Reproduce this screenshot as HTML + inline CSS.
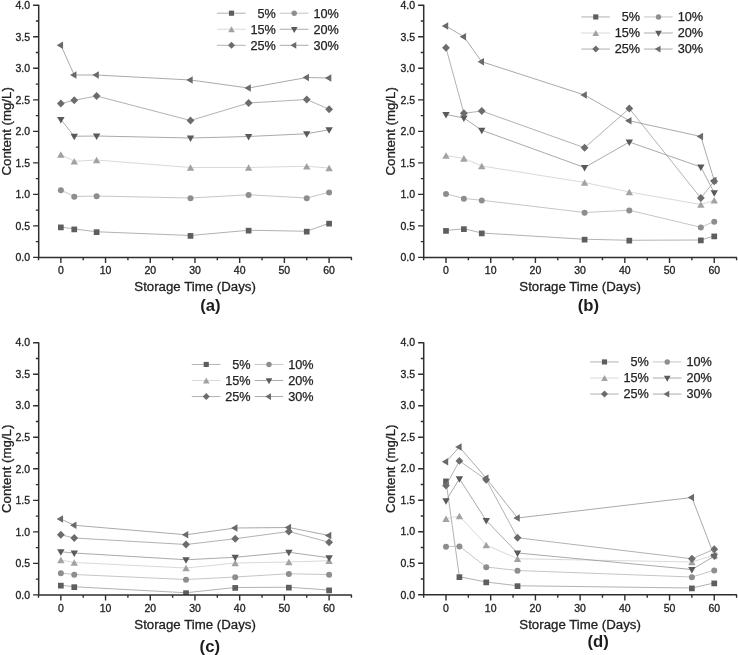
<!DOCTYPE html>
<html lang="en">
<head>
<meta charset="utf-8">
<title>Content vs Storage Time</title>
<style>
html,body{margin:0;padding:0;background:#fff;}
body{width:738px;height:655px;overflow:hidden;}
svg{display:block;filter:blur(0.3px);font-family:"Liberation Sans",Arial,Helvetica,sans-serif;}
.tk{font-size:10.5px;fill:#222;stroke:#222;stroke-width:0.3px;}
.ti{font-size:13.25px;fill:#222;stroke:#222;stroke-width:0.3px;}
.lg{font-size:12.7px;fill:#222;stroke:#222;stroke-width:0.25px;}
.lb{font-size:16.7px;font-weight:bold;fill:#1c1c1c;}
</style>
</head>
<body>
<svg width="738" height="655" viewBox="0 0 738 655">
<rect width="738" height="655" fill="#fff"/>
<g id="chart-a">
<clipPath id="clip-a"><rect x="38.70" y="-14.70" width="315.10" height="272.10"/></clipPath>
<g clip-path="url(#clip-a)">
<polyline points="60.85,227.00 74.26,229.00 96.62,231.75 190.50,235.50 248.62,230.25 306.74,231.25 329.10,223.25" fill="none" stroke="#989898" stroke-width="0.75"/>
<rect x="58.00" y="224.55" width="5.70" height="5.70" fill="#5e5e5e"/>
<rect x="71.41" y="226.55" width="5.70" height="5.70" fill="#5e5e5e"/>
<rect x="93.77" y="229.30" width="5.70" height="5.70" fill="#5e5e5e"/>
<rect x="187.65" y="233.05" width="5.70" height="5.70" fill="#5e5e5e"/>
<rect x="245.77" y="227.80" width="5.70" height="5.70" fill="#5e5e5e"/>
<rect x="303.89" y="228.80" width="5.70" height="5.70" fill="#5e5e5e"/>
<rect x="326.25" y="220.80" width="5.70" height="5.70" fill="#5e5e5e"/>
<polyline points="60.85,190.00 74.26,196.50 96.62,196.00 190.50,198.00 248.62,194.75 306.74,198.00 329.10,192.25" fill="none" stroke="#b2b2b2" stroke-width="0.75"/>
<circle cx="60.85" cy="190.25" r="3.00" fill="#8e8e8e"/>
<circle cx="74.26" cy="196.75" r="3.00" fill="#8e8e8e"/>
<circle cx="96.62" cy="196.25" r="3.00" fill="#8e8e8e"/>
<circle cx="190.50" cy="198.25" r="3.00" fill="#8e8e8e"/>
<circle cx="248.62" cy="195.00" r="3.00" fill="#8e8e8e"/>
<circle cx="306.74" cy="198.25" r="3.00" fill="#8e8e8e"/>
<circle cx="329.10" cy="192.50" r="3.00" fill="#8e8e8e"/>
<polyline points="60.85,154.50 74.26,161.25 96.62,160.00 190.50,167.50 248.62,167.50 306.74,166.25 329.10,168.00" fill="none" stroke="#cccccc" stroke-width="0.75"/>
<polygon points="57.15,157.80 64.55,157.80 60.85,151.20" fill="#a2a2a2"/>
<polygon points="70.56,164.55 77.96,164.55 74.26,157.95" fill="#a2a2a2"/>
<polygon points="92.92,163.30 100.32,163.30 96.62,156.70" fill="#a2a2a2"/>
<polygon points="186.80,170.80 194.20,170.80 190.50,164.20" fill="#a2a2a2"/>
<polygon points="244.92,170.80 252.32,170.80 248.62,164.20" fill="#a2a2a2"/>
<polygon points="303.04,169.55 310.44,169.55 306.74,162.95" fill="#a2a2a2"/>
<polygon points="325.40,171.30 332.80,171.30 329.10,164.70" fill="#a2a2a2"/>
<polyline points="60.85,119.50 74.26,136.25 96.62,136.00 190.50,138.00 248.62,136.50 306.74,133.75 329.10,129.75" fill="none" stroke="#8e8e8e" stroke-width="0.75"/>
<polygon points="57.15,116.90 64.55,116.90 60.85,123.50" fill="#5a5a5a"/>
<polygon points="70.56,133.65 77.96,133.65 74.26,140.25" fill="#5a5a5a"/>
<polygon points="92.92,133.40 100.32,133.40 96.62,140.00" fill="#5a5a5a"/>
<polygon points="186.80,135.40 194.20,135.40 190.50,142.00" fill="#5a5a5a"/>
<polygon points="244.92,133.90 252.32,133.90 248.62,140.50" fill="#5a5a5a"/>
<polygon points="303.04,131.15 310.44,131.15 306.74,137.75" fill="#5a5a5a"/>
<polygon points="325.40,127.15 332.80,127.15 329.10,133.75" fill="#5a5a5a"/>
<polyline points="60.85,103.50 74.26,100.25 96.62,96.00 190.50,120.50 248.62,103.00 306.74,99.50 329.10,109.25" fill="none" stroke="#989898" stroke-width="0.75"/>
<polygon points="56.95,103.50 60.85,99.60 64.75,103.50 60.85,107.40" fill="#6c6c6c"/>
<polygon points="70.36,100.25 74.26,96.35 78.16,100.25 74.26,104.15" fill="#6c6c6c"/>
<polygon points="92.72,96.00 96.62,92.10 100.52,96.00 96.62,99.90" fill="#6c6c6c"/>
<polygon points="186.60,120.50 190.50,116.60 194.40,120.50 190.50,124.40" fill="#6c6c6c"/>
<polygon points="244.72,103.00 248.62,99.10 252.52,103.00 248.62,106.90" fill="#6c6c6c"/>
<polygon points="302.84,99.50 306.74,95.60 310.64,99.50 306.74,103.40" fill="#6c6c6c"/>
<polygon points="325.20,109.25 329.10,105.35 333.00,109.25 329.10,113.15" fill="#6c6c6c"/>
<polyline points="60.85,45.25 74.26,75.00 96.62,75.00 190.50,80.00 248.62,88.00 306.74,77.50 329.10,78.00" fill="none" stroke="#8e8e8e" stroke-width="0.75"/>
<polygon points="63.05,41.55 63.05,48.95 56.65,45.25" fill="#6a6a6a"/>
<polygon points="76.46,71.30 76.46,78.70 70.06,75.00" fill="#6a6a6a"/>
<polygon points="98.82,71.30 98.82,78.70 92.42,75.00" fill="#6a6a6a"/>
<polygon points="192.70,76.30 192.70,83.70 186.30,80.00" fill="#6a6a6a"/>
<polygon points="250.82,84.30 250.82,91.70 244.42,88.00" fill="#6a6a6a"/>
<polygon points="308.94,73.80 308.94,81.20 302.54,77.50" fill="#6a6a6a"/>
<polygon points="331.30,74.30 331.30,81.70 324.90,78.00" fill="#6a6a6a"/>
</g>
<path d="M38.70,4.70V257.40H351.80" fill="none" stroke="#2e2e2e" stroke-width="1.5" stroke-linejoin="miter"/>
<path d="M38.70,257.40h-5.6M38.70,241.64h-2.9M38.70,225.89h-5.6M38.70,210.13h-2.9M38.70,194.38h-5.6M38.70,178.62h-2.9M38.70,162.86h-5.6M38.70,147.11h-2.9M38.70,131.35h-5.6M38.70,115.59h-2.9M38.70,99.84h-5.6M38.70,84.08h-2.9M38.70,68.32h-5.6M38.70,52.57h-2.9M38.70,36.81h-5.6M38.70,21.06h-2.9M38.70,5.30h-5.6M38.50,257.40v2.9M60.85,257.40v5.6M83.20,257.40v2.9M105.56,257.40v5.6M127.91,257.40v2.9M150.27,257.40v5.6M172.62,257.40v2.9M194.97,257.40v5.6M217.33,257.40v2.9M239.68,257.40v5.6M262.04,257.40v2.9M284.39,257.40v5.6M306.74,257.40v2.9M329.10,257.40v5.6M351.45,257.40v2.9" fill="none" stroke="#2e2e2e" stroke-width="1.4"/>
<text class="tk" x="30.10" y="261.10" text-anchor="end">0.0</text>
<text class="tk" x="30.10" y="229.59" text-anchor="end">0.5</text>
<text class="tk" x="30.10" y="198.07" text-anchor="end">1.0</text>
<text class="tk" x="30.10" y="166.56" text-anchor="end">1.5</text>
<text class="tk" x="30.10" y="135.05" text-anchor="end">2.0</text>
<text class="tk" x="30.10" y="103.54" text-anchor="end">2.5</text>
<text class="tk" x="30.10" y="72.02" text-anchor="end">3.0</text>
<text class="tk" x="30.10" y="40.51" text-anchor="end">3.5</text>
<text class="tk" x="30.10" y="9.00" text-anchor="end">4.0</text>
<text class="tk" x="60.85" y="274.00" text-anchor="middle">0</text>
<text class="tk" x="105.56" y="274.00" text-anchor="middle">10</text>
<text class="tk" x="150.27" y="274.00" text-anchor="middle">20</text>
<text class="tk" x="194.97" y="274.00" text-anchor="middle">30</text>
<text class="tk" x="239.68" y="274.00" text-anchor="middle">40</text>
<text class="tk" x="284.39" y="274.00" text-anchor="middle">50</text>
<text class="tk" x="329.10" y="274.00" text-anchor="middle">60</text>
<text class="ti" x="195.05" y="290.60" text-anchor="middle">Storage Time (Days)</text>
<text class="ti" transform="translate(10.70,131.35) rotate(-90)" text-anchor="middle">Content (mg/L)</text>
<text class="lb" x="210.40" y="310.60" text-anchor="middle">(a)</text>
<line x1="217.00" y1="13.20" x2="245.75" y2="13.20" stroke="#989898" stroke-width="0.75"/>
<rect x="228.94" y="10.63" width="5.13" height="5.13" fill="#5e5e5e"/>
<text class="lg" x="275.80" y="17.60" text-anchor="end">5%</text>
<line x1="279.75" y1="13.20" x2="308.50" y2="13.20" stroke="#b2b2b2" stroke-width="0.75"/>
<circle cx="294.25" cy="13.20" r="2.70" fill="#8e8e8e"/>
<text class="lg" x="338.80" y="17.60" text-anchor="end">10%</text>
<line x1="217.00" y1="29.25" x2="245.75" y2="29.25" stroke="#cccccc" stroke-width="0.75"/>
<polygon points="228.17,32.22 234.83,32.22 231.50,26.28" fill="#a2a2a2"/>
<text class="lg" x="275.80" y="33.65" text-anchor="end">15%</text>
<line x1="279.75" y1="29.25" x2="308.50" y2="29.25" stroke="#8e8e8e" stroke-width="0.75"/>
<polygon points="290.92,26.98 297.58,26.98 294.25,32.92" fill="#5a5a5a"/>
<text class="lg" x="338.80" y="33.65" text-anchor="end">20%</text>
<line x1="217.00" y1="45.30" x2="245.75" y2="45.30" stroke="#989898" stroke-width="0.75"/>
<polygon points="227.99,45.30 231.50,41.79 235.01,45.30 231.50,48.81" fill="#6c6c6c"/>
<text class="lg" x="275.80" y="49.70" text-anchor="end">25%</text>
<line x1="279.75" y1="45.30" x2="308.50" y2="45.30" stroke="#8e8e8e" stroke-width="0.75"/>
<polygon points="296.23,41.97 296.23,48.63 290.47,45.30" fill="#6a6a6a"/>
<text class="lg" x="338.80" y="49.70" text-anchor="end">30%</text>
</g>
<g id="chart-b">
<clipPath id="clip-b"><rect x="423.70" y="-14.70" width="315.20" height="272.10"/></clipPath>
<g clip-path="url(#clip-b)">
<polyline points="446.00,230.50 463.88,228.75 481.77,233.00 584.59,239.25 629.30,240.25 700.84,240.00 714.25,236.00" fill="none" stroke="#989898" stroke-width="0.75"/>
<rect x="443.15" y="228.05" width="5.70" height="5.70" fill="#5e5e5e"/>
<rect x="461.03" y="226.30" width="5.70" height="5.70" fill="#5e5e5e"/>
<rect x="478.92" y="230.55" width="5.70" height="5.70" fill="#5e5e5e"/>
<rect x="581.74" y="236.80" width="5.70" height="5.70" fill="#5e5e5e"/>
<rect x="626.45" y="237.80" width="5.70" height="5.70" fill="#5e5e5e"/>
<rect x="697.99" y="237.55" width="5.70" height="5.70" fill="#5e5e5e"/>
<rect x="711.40" y="233.55" width="5.70" height="5.70" fill="#5e5e5e"/>
<polyline points="446.00,193.75 463.88,198.50 481.77,200.25 584.59,212.50 629.30,210.25 700.84,227.25 714.25,221.50" fill="none" stroke="#b2b2b2" stroke-width="0.75"/>
<circle cx="446.00" cy="194.00" r="3.00" fill="#8e8e8e"/>
<circle cx="463.88" cy="198.75" r="3.00" fill="#8e8e8e"/>
<circle cx="481.77" cy="200.50" r="3.00" fill="#8e8e8e"/>
<circle cx="584.59" cy="212.75" r="3.00" fill="#8e8e8e"/>
<circle cx="629.30" cy="210.50" r="3.00" fill="#8e8e8e"/>
<circle cx="700.84" cy="227.50" r="3.00" fill="#8e8e8e"/>
<circle cx="714.25" cy="221.75" r="3.00" fill="#8e8e8e"/>
<polyline points="446.00,155.50 463.88,158.40 481.77,166.00 584.59,182.50 629.30,192.00 700.84,204.50 714.25,200.25" fill="none" stroke="#cccccc" stroke-width="0.75"/>
<polygon points="442.30,158.80 449.70,158.80 446.00,152.20" fill="#a2a2a2"/>
<polygon points="460.18,161.70 467.58,161.70 463.88,155.10" fill="#a2a2a2"/>
<polygon points="478.07,169.30 485.47,169.30 481.77,162.70" fill="#a2a2a2"/>
<polygon points="580.89,185.80 588.29,185.80 584.59,179.20" fill="#a2a2a2"/>
<polygon points="625.60,195.30 633.00,195.30 629.30,188.70" fill="#a2a2a2"/>
<polygon points="697.14,207.80 704.54,207.80 700.84,201.20" fill="#a2a2a2"/>
<polygon points="710.55,203.55 717.95,203.55 714.25,196.95" fill="#a2a2a2"/>
<polyline points="446.00,114.50 463.88,118.00 481.77,130.25 584.59,167.50 629.30,142.00 700.84,167.00 714.25,192.75" fill="none" stroke="#8e8e8e" stroke-width="0.75"/>
<polygon points="442.30,111.90 449.70,111.90 446.00,118.50" fill="#5a5a5a"/>
<polygon points="460.18,115.40 467.58,115.40 463.88,122.00" fill="#5a5a5a"/>
<polygon points="478.07,127.65 485.47,127.65 481.77,134.25" fill="#5a5a5a"/>
<polygon points="580.89,164.90 588.29,164.90 584.59,171.50" fill="#5a5a5a"/>
<polygon points="625.60,139.40 633.00,139.40 629.30,146.00" fill="#5a5a5a"/>
<polygon points="697.14,164.40 704.54,164.40 700.84,171.00" fill="#5a5a5a"/>
<polygon points="710.55,190.15 717.95,190.15 714.25,196.75" fill="#5a5a5a"/>
<polyline points="446.00,47.75 463.88,113.25 481.77,111.00 584.59,147.75 629.30,108.50 700.84,198.00 714.25,181.25" fill="none" stroke="#989898" stroke-width="0.75"/>
<polygon points="442.10,47.75 446.00,43.85 449.90,47.75 446.00,51.65" fill="#6c6c6c"/>
<polygon points="459.98,113.25 463.88,109.35 467.78,113.25 463.88,117.15" fill="#6c6c6c"/>
<polygon points="477.87,111.00 481.77,107.10 485.67,111.00 481.77,114.90" fill="#6c6c6c"/>
<polygon points="580.69,147.75 584.59,143.85 588.49,147.75 584.59,151.65" fill="#6c6c6c"/>
<polygon points="625.40,108.50 629.30,104.60 633.20,108.50 629.30,112.40" fill="#6c6c6c"/>
<polygon points="696.94,198.00 700.84,194.10 704.74,198.00 700.84,201.90" fill="#6c6c6c"/>
<polygon points="710.35,181.25 714.25,177.35 718.15,181.25 714.25,185.15" fill="#6c6c6c"/>
<polyline points="446.00,26.00 463.88,36.75 481.77,61.75 584.59,95.00 629.30,120.75 700.84,136.50 714.25,180.50" fill="none" stroke="#8e8e8e" stroke-width="0.75"/>
<polygon points="448.20,22.30 448.20,29.70 441.80,26.00" fill="#6a6a6a"/>
<polygon points="466.08,33.05 466.08,40.45 459.68,36.75" fill="#6a6a6a"/>
<polygon points="483.97,58.05 483.97,65.45 477.57,61.75" fill="#6a6a6a"/>
<polygon points="586.79,91.30 586.79,98.70 580.39,95.00" fill="#6a6a6a"/>
<polygon points="631.50,117.05 631.50,124.45 625.10,120.75" fill="#6a6a6a"/>
<polygon points="703.04,132.80 703.04,140.20 696.64,136.50" fill="#6a6a6a"/>
<polygon points="716.45,176.80 716.45,184.20 710.05,180.50" fill="#6a6a6a"/>
</g>
<path d="M423.70,4.70V257.40H736.90" fill="none" stroke="#2e2e2e" stroke-width="1.5" stroke-linejoin="miter"/>
<path d="M423.70,257.40h-5.6M423.70,241.64h-2.9M423.70,225.89h-5.6M423.70,210.13h-2.9M423.70,194.38h-5.6M423.70,178.62h-2.9M423.70,162.86h-5.6M423.70,147.11h-2.9M423.70,131.35h-5.6M423.70,115.59h-2.9M423.70,99.84h-5.6M423.70,84.08h-2.9M423.70,68.32h-5.6M423.70,52.57h-2.9M423.70,36.81h-5.6M423.70,21.06h-2.9M423.70,5.30h-5.6M423.65,257.40v2.9M446.00,257.40v5.6M468.35,257.40v2.9M490.71,257.40v5.6M513.06,257.40v2.9M535.42,257.40v5.6M557.77,257.40v2.9M580.12,257.40v5.6M602.48,257.40v2.9M624.83,257.40v5.6M647.19,257.40v2.9M669.54,257.40v5.6M691.89,257.40v2.9M714.25,257.40v5.6M736.60,257.40v2.9" fill="none" stroke="#2e2e2e" stroke-width="1.4"/>
<text class="tk" x="415.10" y="261.10" text-anchor="end">0.0</text>
<text class="tk" x="415.10" y="229.59" text-anchor="end">0.5</text>
<text class="tk" x="415.10" y="198.07" text-anchor="end">1.0</text>
<text class="tk" x="415.10" y="166.56" text-anchor="end">1.5</text>
<text class="tk" x="415.10" y="135.05" text-anchor="end">2.0</text>
<text class="tk" x="415.10" y="103.54" text-anchor="end">2.5</text>
<text class="tk" x="415.10" y="72.02" text-anchor="end">3.0</text>
<text class="tk" x="415.10" y="40.51" text-anchor="end">3.5</text>
<text class="tk" x="415.10" y="9.00" text-anchor="end">4.0</text>
<text class="tk" x="446.00" y="274.00" text-anchor="middle">0</text>
<text class="tk" x="490.71" y="274.00" text-anchor="middle">10</text>
<text class="tk" x="535.42" y="274.00" text-anchor="middle">20</text>
<text class="tk" x="580.12" y="274.00" text-anchor="middle">30</text>
<text class="tk" x="624.83" y="274.00" text-anchor="middle">40</text>
<text class="tk" x="669.54" y="274.00" text-anchor="middle">50</text>
<text class="tk" x="714.25" y="274.00" text-anchor="middle">60</text>
<text class="ti" x="580.10" y="290.60" text-anchor="middle">Storage Time (Days)</text>
<text class="ti" transform="translate(395.10,131.35) rotate(-90)" text-anchor="middle">Content (mg/L)</text>
<text class="lb" x="588.40" y="310.60" text-anchor="middle">(b)</text>
<line x1="581.25" y1="16.95" x2="610.00" y2="16.95" stroke="#989898" stroke-width="0.75"/>
<rect x="593.18" y="14.38" width="5.13" height="5.13" fill="#5e5e5e"/>
<text class="lg" x="640.05" y="21.35" text-anchor="end">5%</text>
<line x1="644.00" y1="16.95" x2="672.75" y2="16.95" stroke="#b2b2b2" stroke-width="0.75"/>
<circle cx="658.50" cy="16.95" r="2.70" fill="#8e8e8e"/>
<text class="lg" x="703.05" y="21.35" text-anchor="end">10%</text>
<line x1="581.25" y1="33.00" x2="610.00" y2="33.00" stroke="#cccccc" stroke-width="0.75"/>
<polygon points="592.42,35.97 599.08,35.97 595.75,30.03" fill="#a2a2a2"/>
<text class="lg" x="640.05" y="37.40" text-anchor="end">15%</text>
<line x1="644.00" y1="33.00" x2="672.75" y2="33.00" stroke="#8e8e8e" stroke-width="0.75"/>
<polygon points="655.17,30.73 661.83,30.73 658.50,36.67" fill="#5a5a5a"/>
<text class="lg" x="703.05" y="37.40" text-anchor="end">20%</text>
<line x1="581.25" y1="49.05" x2="610.00" y2="49.05" stroke="#989898" stroke-width="0.75"/>
<polygon points="592.24,49.05 595.75,45.54 599.26,49.05 595.75,52.56" fill="#6c6c6c"/>
<text class="lg" x="640.05" y="53.45" text-anchor="end">25%</text>
<line x1="644.00" y1="49.05" x2="672.75" y2="49.05" stroke="#8e8e8e" stroke-width="0.75"/>
<polygon points="660.48,45.72 660.48,52.38 654.72,49.05" fill="#6a6a6a"/>
<text class="lg" x="703.05" y="53.45" text-anchor="end">30%</text>
</g>
<g id="chart-c">
<clipPath id="clip-c"><rect x="38.70" y="322.75" width="315.10" height="272.15"/></clipPath>
<g clip-path="url(#clip-c)">
<polyline points="60.85,585.25 74.26,586.75 186.03,592.75 235.21,587.50 288.86,587.25 329.10,590.00" fill="none" stroke="#989898" stroke-width="0.75"/>
<rect x="58.00" y="582.80" width="5.70" height="5.70" fill="#5e5e5e"/>
<rect x="71.41" y="584.30" width="5.70" height="5.70" fill="#5e5e5e"/>
<rect x="183.18" y="590.30" width="5.70" height="5.70" fill="#5e5e5e"/>
<rect x="232.36" y="585.05" width="5.70" height="5.70" fill="#5e5e5e"/>
<rect x="286.01" y="584.80" width="5.70" height="5.70" fill="#5e5e5e"/>
<rect x="326.25" y="587.55" width="5.70" height="5.70" fill="#5e5e5e"/>
<polyline points="60.85,573.00 74.26,574.50 186.03,579.50 235.21,577.00 288.86,573.75 329.10,574.50" fill="none" stroke="#b2b2b2" stroke-width="0.75"/>
<circle cx="60.85" cy="573.25" r="3.00" fill="#8e8e8e"/>
<circle cx="74.26" cy="574.75" r="3.00" fill="#8e8e8e"/>
<circle cx="186.03" cy="579.75" r="3.00" fill="#8e8e8e"/>
<circle cx="235.21" cy="577.25" r="3.00" fill="#8e8e8e"/>
<circle cx="288.86" cy="574.00" r="3.00" fill="#8e8e8e"/>
<circle cx="329.10" cy="574.75" r="3.00" fill="#8e8e8e"/>
<polyline points="60.85,560.00 74.26,562.50 186.03,568.00 235.21,563.00 288.86,562.00 329.10,560.75" fill="none" stroke="#cccccc" stroke-width="0.75"/>
<polygon points="57.15,563.30 64.55,563.30 60.85,556.70" fill="#a2a2a2"/>
<polygon points="70.56,565.80 77.96,565.80 74.26,559.20" fill="#a2a2a2"/>
<polygon points="182.33,571.30 189.73,571.30 186.03,564.70" fill="#a2a2a2"/>
<polygon points="231.51,566.30 238.91,566.30 235.21,559.70" fill="#a2a2a2"/>
<polygon points="285.16,565.30 292.56,565.30 288.86,558.70" fill="#a2a2a2"/>
<polygon points="325.40,564.05 332.80,564.05 329.10,557.45" fill="#a2a2a2"/>
<polyline points="60.85,551.75 74.26,553.00 186.03,559.75 235.21,557.25 288.86,552.25 329.10,557.75" fill="none" stroke="#8e8e8e" stroke-width="0.75"/>
<polygon points="57.15,549.15 64.55,549.15 60.85,555.75" fill="#5a5a5a"/>
<polygon points="70.56,550.40 77.96,550.40 74.26,557.00" fill="#5a5a5a"/>
<polygon points="182.33,557.15 189.73,557.15 186.03,563.75" fill="#5a5a5a"/>
<polygon points="231.51,554.65 238.91,554.65 235.21,561.25" fill="#5a5a5a"/>
<polygon points="285.16,549.65 292.56,549.65 288.86,556.25" fill="#5a5a5a"/>
<polygon points="325.40,555.15 332.80,555.15 329.10,561.75" fill="#5a5a5a"/>
<polyline points="60.85,534.75 74.26,538.00 186.03,544.50 235.21,538.75 288.86,531.50 329.10,542.25" fill="none" stroke="#989898" stroke-width="0.75"/>
<polygon points="56.95,534.75 60.85,530.85 64.75,534.75 60.85,538.65" fill="#6c6c6c"/>
<polygon points="70.36,538.00 74.26,534.10 78.16,538.00 74.26,541.90" fill="#6c6c6c"/>
<polygon points="182.13,544.50 186.03,540.60 189.93,544.50 186.03,548.40" fill="#6c6c6c"/>
<polygon points="231.31,538.75 235.21,534.85 239.11,538.75 235.21,542.65" fill="#6c6c6c"/>
<polygon points="284.96,531.50 288.86,527.60 292.76,531.50 288.86,535.40" fill="#6c6c6c"/>
<polygon points="325.20,542.25 329.10,538.35 333.00,542.25 329.10,546.15" fill="#6c6c6c"/>
<polyline points="60.85,519.00 74.26,525.25 186.03,534.75 235.21,528.00 288.86,527.50 329.10,535.50" fill="none" stroke="#8e8e8e" stroke-width="0.75"/>
<polygon points="63.05,515.30 63.05,522.70 56.65,519.00" fill="#6a6a6a"/>
<polygon points="76.46,521.55 76.46,528.95 70.06,525.25" fill="#6a6a6a"/>
<polygon points="188.23,531.05 188.23,538.45 181.83,534.75" fill="#6a6a6a"/>
<polygon points="237.41,524.30 237.41,531.70 231.01,528.00" fill="#6a6a6a"/>
<polygon points="291.06,523.80 291.06,531.20 284.66,527.50" fill="#6a6a6a"/>
<polygon points="331.30,531.80 331.30,539.20 324.90,535.50" fill="#6a6a6a"/>
</g>
<path d="M38.70,342.15V594.90H351.80" fill="none" stroke="#2e2e2e" stroke-width="1.5" stroke-linejoin="miter"/>
<path d="M38.70,594.90h-5.6M38.70,579.14h-2.9M38.70,563.38h-5.6M38.70,547.62h-2.9M38.70,531.86h-5.6M38.70,516.10h-2.9M38.70,500.34h-5.6M38.70,484.58h-2.9M38.70,468.82h-5.6M38.70,453.07h-2.9M38.70,437.31h-5.6M38.70,421.55h-2.9M38.70,405.79h-5.6M38.70,390.03h-2.9M38.70,374.27h-5.6M38.70,358.51h-2.9M38.70,342.75h-5.6M38.50,594.90v2.9M60.85,594.90v5.6M83.20,594.90v2.9M105.56,594.90v5.6M127.91,594.90v2.9M150.27,594.90v5.6M172.62,594.90v2.9M194.97,594.90v5.6M217.33,594.90v2.9M239.68,594.90v5.6M262.04,594.90v2.9M284.39,594.90v5.6M306.74,594.90v2.9M329.10,594.90v5.6M351.45,594.90v2.9" fill="none" stroke="#2e2e2e" stroke-width="1.4"/>
<text class="tk" x="30.10" y="598.60" text-anchor="end">0.0</text>
<text class="tk" x="30.10" y="567.08" text-anchor="end">0.5</text>
<text class="tk" x="30.10" y="535.56" text-anchor="end">1.0</text>
<text class="tk" x="30.10" y="504.04" text-anchor="end">1.5</text>
<text class="tk" x="30.10" y="472.52" text-anchor="end">2.0</text>
<text class="tk" x="30.10" y="441.01" text-anchor="end">2.5</text>
<text class="tk" x="30.10" y="409.49" text-anchor="end">3.0</text>
<text class="tk" x="30.10" y="377.97" text-anchor="end">3.5</text>
<text class="tk" x="30.10" y="346.45" text-anchor="end">4.0</text>
<text class="tk" x="60.85" y="612.00" text-anchor="middle">0</text>
<text class="tk" x="105.56" y="612.00" text-anchor="middle">10</text>
<text class="tk" x="150.27" y="612.00" text-anchor="middle">20</text>
<text class="tk" x="194.97" y="612.00" text-anchor="middle">30</text>
<text class="tk" x="239.68" y="612.00" text-anchor="middle">40</text>
<text class="tk" x="284.39" y="612.00" text-anchor="middle">50</text>
<text class="tk" x="329.10" y="612.00" text-anchor="middle">60</text>
<text class="ti" x="195.05" y="628.80" text-anchor="middle">Storage Time (Days)</text>
<text class="ti" transform="translate(10.70,468.82) rotate(-90)" text-anchor="middle">Content (mg/L)</text>
<text class="lb" x="209.80" y="651.50" text-anchor="middle">(c)</text>
<line x1="191.75" y1="364.45" x2="220.50" y2="364.45" stroke="#989898" stroke-width="0.75"/>
<rect x="203.69" y="361.88" width="5.13" height="5.13" fill="#5e5e5e"/>
<text class="lg" x="250.55" y="368.85" text-anchor="end">5%</text>
<line x1="254.50" y1="364.45" x2="283.25" y2="364.45" stroke="#b2b2b2" stroke-width="0.75"/>
<circle cx="269.00" cy="364.45" r="2.70" fill="#8e8e8e"/>
<text class="lg" x="313.55" y="368.85" text-anchor="end">10%</text>
<line x1="191.75" y1="380.50" x2="220.50" y2="380.50" stroke="#cccccc" stroke-width="0.75"/>
<polygon points="202.92,383.47 209.58,383.47 206.25,377.53" fill="#a2a2a2"/>
<text class="lg" x="250.55" y="384.90" text-anchor="end">15%</text>
<line x1="254.50" y1="380.50" x2="283.25" y2="380.50" stroke="#8e8e8e" stroke-width="0.75"/>
<polygon points="265.67,378.23 272.33,378.23 269.00,384.17" fill="#5a5a5a"/>
<text class="lg" x="313.55" y="384.90" text-anchor="end">20%</text>
<line x1="191.75" y1="396.55" x2="220.50" y2="396.55" stroke="#989898" stroke-width="0.75"/>
<polygon points="202.74,396.55 206.25,393.04 209.76,396.55 206.25,400.06" fill="#6c6c6c"/>
<text class="lg" x="250.55" y="400.95" text-anchor="end">25%</text>
<line x1="254.50" y1="396.55" x2="283.25" y2="396.55" stroke="#8e8e8e" stroke-width="0.75"/>
<polygon points="270.98,393.22 270.98,399.88 265.22,396.55" fill="#6a6a6a"/>
<text class="lg" x="313.55" y="400.95" text-anchor="end">30%</text>
</g>
<g id="chart-d">
<clipPath id="clip-d"><rect x="423.70" y="322.75" width="315.20" height="272.05"/></clipPath>
<g clip-path="url(#clip-d)">
<polyline points="446.00,481.00 459.41,576.75 486.24,582.00 517.53,585.75 691.89,588.00 714.25,583.00" fill="none" stroke="#989898" stroke-width="0.75"/>
<rect x="443.15" y="478.55" width="5.70" height="5.70" fill="#5e5e5e"/>
<rect x="456.56" y="574.30" width="5.70" height="5.70" fill="#5e5e5e"/>
<rect x="483.39" y="579.55" width="5.70" height="5.70" fill="#5e5e5e"/>
<rect x="514.68" y="583.30" width="5.70" height="5.70" fill="#5e5e5e"/>
<rect x="689.04" y="585.55" width="5.70" height="5.70" fill="#5e5e5e"/>
<rect x="711.40" y="580.55" width="5.70" height="5.70" fill="#5e5e5e"/>
<polyline points="446.00,546.50 459.41,546.25 486.24,567.00 517.53,570.50 691.89,577.00 714.25,570.25" fill="none" stroke="#b2b2b2" stroke-width="0.75"/>
<circle cx="446.00" cy="546.75" r="3.00" fill="#8e8e8e"/>
<circle cx="459.41" cy="546.50" r="3.00" fill="#8e8e8e"/>
<circle cx="486.24" cy="567.25" r="3.00" fill="#8e8e8e"/>
<circle cx="517.53" cy="570.75" r="3.00" fill="#8e8e8e"/>
<circle cx="691.89" cy="577.25" r="3.00" fill="#8e8e8e"/>
<circle cx="714.25" cy="570.50" r="3.00" fill="#8e8e8e"/>
<polyline points="446.00,518.75 459.41,516.00 486.24,545.00 517.53,558.75 691.89,562.00 714.25,555.00" fill="none" stroke="#cccccc" stroke-width="0.75"/>
<polygon points="442.30,522.05 449.70,522.05 446.00,515.45" fill="#a2a2a2"/>
<polygon points="455.71,519.30 463.11,519.30 459.41,512.70" fill="#a2a2a2"/>
<polygon points="482.54,548.30 489.94,548.30 486.24,541.70" fill="#a2a2a2"/>
<polygon points="513.83,562.05 521.23,562.05 517.53,555.45" fill="#a2a2a2"/>
<polygon points="688.19,565.30 695.59,565.30 691.89,558.70" fill="#a2a2a2"/>
<polygon points="710.55,558.30 717.95,558.30 714.25,551.70" fill="#a2a2a2"/>
<polyline points="446.00,500.75 459.41,478.75 486.24,520.50 517.53,553.00 691.89,569.50 714.25,556.25" fill="none" stroke="#8e8e8e" stroke-width="0.75"/>
<polygon points="442.30,498.15 449.70,498.15 446.00,504.75" fill="#5a5a5a"/>
<polygon points="455.71,476.15 463.11,476.15 459.41,482.75" fill="#5a5a5a"/>
<polygon points="482.54,517.90 489.94,517.90 486.24,524.50" fill="#5a5a5a"/>
<polygon points="513.83,550.40 521.23,550.40 517.53,557.00" fill="#5a5a5a"/>
<polygon points="688.19,566.90 695.59,566.90 691.89,573.50" fill="#5a5a5a"/>
<polygon points="710.55,553.65 717.95,553.65 714.25,560.25" fill="#5a5a5a"/>
<polyline points="446.00,485.60 459.41,460.90 486.24,479.75 517.53,537.75 691.89,558.75 714.25,549.25" fill="none" stroke="#989898" stroke-width="0.75"/>
<polygon points="442.10,485.60 446.00,481.70 449.90,485.60 446.00,489.50" fill="#6c6c6c"/>
<polygon points="455.51,460.90 459.41,457.00 463.31,460.90 459.41,464.80" fill="#6c6c6c"/>
<polygon points="482.34,479.75 486.24,475.85 490.14,479.75 486.24,483.65" fill="#6c6c6c"/>
<polygon points="513.63,537.75 517.53,533.85 521.43,537.75 517.53,541.65" fill="#6c6c6c"/>
<polygon points="687.99,558.75 691.89,554.85 695.79,558.75 691.89,562.65" fill="#6c6c6c"/>
<polygon points="710.35,549.25 714.25,545.35 718.15,549.25 714.25,553.15" fill="#6c6c6c"/>
<polyline points="446.00,461.75 459.41,447.00 486.24,478.25 517.53,518.00 691.89,497.50 714.25,555.75" fill="none" stroke="#8e8e8e" stroke-width="0.75"/>
<polygon points="448.20,458.05 448.20,465.45 441.80,461.75" fill="#6a6a6a"/>
<polygon points="461.61,443.30 461.61,450.70 455.21,447.00" fill="#6a6a6a"/>
<polygon points="488.44,474.55 488.44,481.95 482.04,478.25" fill="#6a6a6a"/>
<polygon points="519.73,514.30 519.73,521.70 513.33,518.00" fill="#6a6a6a"/>
<polygon points="694.09,493.80 694.09,501.20 687.69,497.50" fill="#6a6a6a"/>
<polygon points="716.45,552.05 716.45,559.45 710.05,555.75" fill="#6a6a6a"/>
</g>
<path d="M423.70,342.15V594.80H736.90" fill="none" stroke="#2e2e2e" stroke-width="1.5" stroke-linejoin="miter"/>
<path d="M423.70,594.80h-5.6M423.70,579.05h-2.9M423.70,563.29h-5.6M423.70,547.54h-2.9M423.70,531.79h-5.6M423.70,516.03h-2.9M423.70,500.28h-5.6M423.70,484.53h-2.9M423.70,468.77h-5.6M423.70,453.02h-2.9M423.70,437.27h-5.6M423.70,421.52h-2.9M423.70,405.76h-5.6M423.70,390.01h-2.9M423.70,374.26h-5.6M423.70,358.50h-2.9M423.70,342.75h-5.6M423.65,594.80v2.9M446.00,594.80v5.6M468.35,594.80v2.9M490.71,594.80v5.6M513.06,594.80v2.9M535.42,594.80v5.6M557.77,594.80v2.9M580.12,594.80v5.6M602.48,594.80v2.9M624.83,594.80v5.6M647.19,594.80v2.9M669.54,594.80v5.6M691.89,594.80v2.9M714.25,594.80v5.6M736.60,594.80v2.9" fill="none" stroke="#2e2e2e" stroke-width="1.4"/>
<text class="tk" x="415.10" y="598.50" text-anchor="end">0.0</text>
<text class="tk" x="415.10" y="566.99" text-anchor="end">0.5</text>
<text class="tk" x="415.10" y="535.49" text-anchor="end">1.0</text>
<text class="tk" x="415.10" y="503.98" text-anchor="end">1.5</text>
<text class="tk" x="415.10" y="472.47" text-anchor="end">2.0</text>
<text class="tk" x="415.10" y="440.97" text-anchor="end">2.5</text>
<text class="tk" x="415.10" y="409.46" text-anchor="end">3.0</text>
<text class="tk" x="415.10" y="377.96" text-anchor="end">3.5</text>
<text class="tk" x="415.10" y="346.45" text-anchor="end">4.0</text>
<text class="tk" x="446.00" y="612.00" text-anchor="middle">0</text>
<text class="tk" x="490.71" y="612.00" text-anchor="middle">10</text>
<text class="tk" x="535.42" y="612.00" text-anchor="middle">20</text>
<text class="tk" x="580.12" y="612.00" text-anchor="middle">30</text>
<text class="tk" x="624.83" y="612.00" text-anchor="middle">40</text>
<text class="tk" x="669.54" y="612.00" text-anchor="middle">50</text>
<text class="tk" x="714.25" y="612.00" text-anchor="middle">60</text>
<text class="ti" x="580.10" y="628.80" text-anchor="middle">Storage Time (Days)</text>
<text class="ti" transform="translate(395.10,468.77) rotate(-90)" text-anchor="middle">Content (mg/L)</text>
<text class="lb" x="598.20" y="647.40" text-anchor="middle">(d)</text>
<line x1="590.00" y1="361.95" x2="618.75" y2="361.95" stroke="#989898" stroke-width="0.75"/>
<rect x="601.93" y="359.38" width="5.13" height="5.13" fill="#5e5e5e"/>
<text class="lg" x="648.80" y="366.35" text-anchor="end">5%</text>
<line x1="652.75" y1="361.95" x2="681.50" y2="361.95" stroke="#b2b2b2" stroke-width="0.75"/>
<circle cx="667.25" cy="361.95" r="2.70" fill="#8e8e8e"/>
<text class="lg" x="711.80" y="366.35" text-anchor="end">10%</text>
<line x1="590.00" y1="378.00" x2="618.75" y2="378.00" stroke="#cccccc" stroke-width="0.75"/>
<polygon points="601.17,380.97 607.83,380.97 604.50,375.03" fill="#a2a2a2"/>
<text class="lg" x="648.80" y="382.40" text-anchor="end">15%</text>
<line x1="652.75" y1="378.00" x2="681.50" y2="378.00" stroke="#8e8e8e" stroke-width="0.75"/>
<polygon points="663.92,375.73 670.58,375.73 667.25,381.67" fill="#5a5a5a"/>
<text class="lg" x="711.80" y="382.40" text-anchor="end">20%</text>
<line x1="590.00" y1="394.05" x2="618.75" y2="394.05" stroke="#989898" stroke-width="0.75"/>
<polygon points="600.99,394.05 604.50,390.54 608.01,394.05 604.50,397.56" fill="#6c6c6c"/>
<text class="lg" x="648.80" y="398.45" text-anchor="end">25%</text>
<line x1="652.75" y1="394.05" x2="681.50" y2="394.05" stroke="#8e8e8e" stroke-width="0.75"/>
<polygon points="669.23,390.72 669.23,397.38 663.47,394.05" fill="#6a6a6a"/>
<text class="lg" x="711.80" y="398.45" text-anchor="end">30%</text>
</g>
</svg>
</body>
</html>
